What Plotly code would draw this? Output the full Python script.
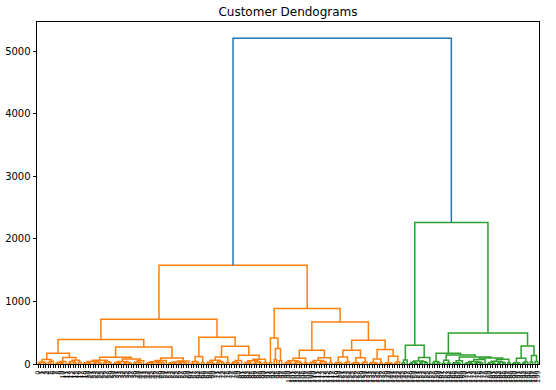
import plotly.graph_objects as go

# ---------------- data ----------------
# Link heights of the upper part of the dendrogram
root_h = 5210
orange_h, green_h = 1579, 2262
orange_sub_h = [715, 886]          # A, B
a_sub_h = [390, 426]               # A1, A2
a1_sub_h = [170, 272]              # A1a, A1b
a1a_right_h = 105
a1b_left_h, a1b_right_h = 108, 95
a2b_h, a2b_right_h = 285, 140
b_sub_h = [416, 672]               # B1, B2
b1_right_h = 246
b2_sub_h = [219, 379]              # B2a, B2b
b2b_sub_h = [219, 230]
green_sub_h = [300, 496]           # G1, G2
g2_sub_h = [171, 288]              # G2a, G2b
g2a_right_h = [144, 110, 95]
g2b_right_h = 134

# Low-level merge heights of the small leaf groups (n heights -> n+1 leaves)
a1a_left = [10, 18, 25, 32, 45, 70]
a1a_r1 = [8, 15, 22, 40]
a1a_r2 = [12, 20, 26, 38, 60]
a1b_l1 = [6, 9, 12, 15, 18, 22, 25, 30, 34, 40, 60]
a1b_l2 = [5, 8, 11, 14, 17, 20, 24, 28, 33, 38, 50, 80]
a1b_r1 = [7, 10, 14, 18, 22, 27, 35, 55]
a1b_r2 = [6, 9, 13, 17, 21, 26, 32, 48]
a2a = [10, 16, 25, 40, 120]
a2b_left = [6, 10, 14, 19, 24, 30, 40, 60, 110]
a2b_r1 = [8, 14, 30, 55]
a2b_r2 = [5, 9, 13, 17, 22, 28, 36, 50, 75]
b1_left = [25]
b1_r1 = [70]
b1_r2 = [50]
b2a_left = [5, 8, 12, 16, 20, 26, 34, 50, 90]
b2a_right = [6, 9, 13, 17, 22, 28, 38, 55, 100]
b2b_l1 = [5, 9, 14, 22, 32, 110]
b2b_l2 = [6, 10, 16, 22, 30, 100]
b2b_r1 = [6, 11, 17, 25, 80]
b2b_r2 = [5, 9, 14, 20, 30, 125]
g1_left = [20, 64]
g1_right = [5, 9, 14, 20, 27, 35, 48, 105]
g2a_left = [10, 18, 40]
g2a_r1 = [8, 15, 60]
g2a_r2 = [6, 11, 20, 50]
g2a_r3 = [5, 8, 12, 16, 21, 28, 40, 70]
g2a_r4 = [4, 7, 10, 14, 18, 23, 30, 45, 75]
g2b_left = [5, 9, 14, 20, 30, 90]
g2b_r1 = [30]
g2b_r2 = [40]

colors = {"top": "#1f77b4", "orange": "#ff7f0e", "green": "#2ca02c"}

# ---------------- tree structure ----------------
orange_tree = (orange_h,
    (orange_sub_h[0],
        (a_sub_h[0],
            (a1_sub_h[0], a1a_left, (a1a_right_h, a1a_r1, a1a_r2)),
            (a1_sub_h[1], (a1b_left_h, a1b_l1, a1b_l2), (a1b_right_h, a1b_r1, a1b_r2))),
        (a_sub_h[1], a2a,
            (a2b_h, a2b_left, (a2b_right_h, a2b_r1, a2b_r2)))),
    (orange_sub_h[1],
        (b_sub_h[0], b1_left, (b1_right_h, b1_r1, b1_r2)),
        (b_sub_h[1],
            (b2_sub_h[0], b2a_left, b2a_right),
            (b2_sub_h[1],
                (b2b_sub_h[0], b2b_l1, b2b_l2),
                (b2b_sub_h[1], b2b_r1, b2b_r2)))))

green_tree = (green_h,
    (green_sub_h[0], g1_left, g1_right),
    (green_sub_h[1],
        (g2_sub_h[0], g2a_left,
            (g2a_right_h[0], g2a_r1,
                (g2a_right_h[1], g2a_r2, (g2a_right_h[2], g2a_r3, g2a_r4)))),
        (g2_sub_h[1], g2b_left, (g2b_right_h, g2b_r1, g2b_r2))))

# ---------------- layout of the dendrogram ----------------
segs = {k: ([], []) for k in colors}
counter = [0]


def link(a, b, h, col):
    xs, ys = segs[col]
    xs += [a[0], a[0], b[0], b[0], None]
    ys += [a[1], h, h, b[1], None]


def group(heights, col):
    items = []
    for _ in range(len(heights) + 1):
        items.append((5 + 10 * counter[0], 0.0))
        counter[0] += 1
    hs = sorted(heights)
    k = 0
    while len(items) > 1:
        new = []
        for i in range(0, len(items) - 1, 2):
            a, b = items[i], items[i + 1]
            h = hs[k]
            k += 1
            link(a, b, h, col)
            new.append(((a[0] + b[0]) / 2, h))
        if len(items) % 2:
            new.append(items[-1])
        items = new
    return items[0]


def draw(node, col):
    if isinstance(node, list):
        return group(node, col)
    h, left, right = node
    a = draw(left, col)
    b = draw(right, col)
    link(a, b, h, col)
    return ((a[0] + b[0]) / 2, h)


pa = draw(orange_tree, "orange")
pb = draw(green_tree, "green")
link(pa, pb, root_h, "top")

n_leaves = counter[0]
leaf_pos = [5 + 10 * i for i in range(n_leaves)]
leaf_labels = [str(i) for i in range(n_leaves)]

fig = go.Figure()
for key in ["orange", "green", "top"]:
    xs, ys = segs[key]
    fig.add_trace(go.Scatter(x=xs, y=ys, mode="lines",
                             line=dict(color=colors[key], width=1.5),
                             hoverinfo="skip", showlegend=False))

ymax = root_h * 1.05
fig.update_layout(
    width=556, height=390,
    margin=dict(l=37, r=17, t=22, b=26),
    paper_bgcolor="white", plot_bgcolor="white",
    font=dict(family="DejaVu Sans", color="black"),
    title=dict(text="Customer Dendograms", x=0.5, xref="paper", xanchor="center",
               y=1 - 12 / 390, yref="container", yanchor="middle",
               font=dict(family="DejaVu Sans", size=12, color="black")),
    xaxis=dict(range=[0, n_leaves * 10], showgrid=False, zeroline=False,
               showline=True, mirror=True, linecolor="black", linewidth=0.8,
               tickmode="array", tickvals=leaf_pos, ticktext=leaf_labels,
               tickangle=-90, ticks="outside", ticklen=3, tickwidth=0.6,
               tickcolor="black", tickfont=dict(size=6.5, family="DejaVu Sans"),
               automargin=False),
    yaxis=dict(range=[0, ymax], showgrid=False, zeroline=False,
               showline=True, mirror=True, linecolor="black", linewidth=0.8,
               tickmode="array", tickvals=[0, 1000, 2000, 3000, 4000, 5000],
               ticks="outside", ticklen=3.5, tickwidth=0.8, tickcolor="black",
               tickfont=dict(size=10, family="DejaVu Sans"), automargin=False),
)

fig.write_html("out.html", config={"displayModeBar": False},
               post_script="document.body.style.margin='0px';")
